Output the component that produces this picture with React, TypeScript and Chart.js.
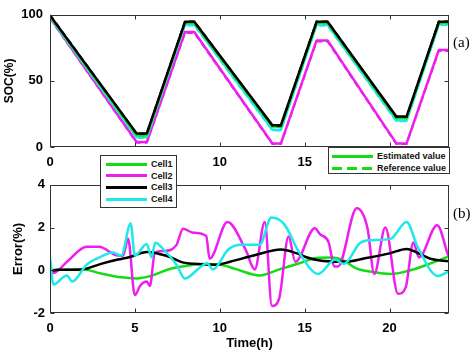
import React, { useEffect, useRef } from 'react';
import { Chart, registerables } from 'chart.js';

Chart.register(...registerables);

// ---------- Data: SOC (top panel) ----------
const socTime = [0, 5.1, 5.7, 7.95, 8.5, 13.1, 13.6, 15.7, 16.35, 20.4, 21.0, 22.9, 23.5];
const socEst1 = [99, 9, 9, 94, 94, 15.5, 15.5, 94, 94, 22, 22, 94, 94];
const socEst2 = [98, 3.8, 3.8, 87, 87, 2.7, 2.7, 80.6, 80.6, 2.7, 2.7, 73.4, 73.4];
const socEst3 = [99.5, 10.3, 10.3, 94.7, 94.7, 16.5, 16.5, 94.7, 94.7, 23, 23, 94.7, 94.7];
const socEst4 = [98.5, 7.4, 7.4, 92.6, 92.6, 13, 13, 92.5, 92.5, 20, 20, 92.8, 92.8];
const socRef1 = [99.5, 8.6, 8.6, 93.6, 93.6, 15.2, 15.2, 93.7, 93.7, 21.8, 21.8, 93.5, 93.5];
const socRef2 = [97.5, 3.2, 3.2, 86.2, 86.2, 2.2, 2.2, 79.8, 79.8, 2.2, 2.2, 72.6, 72.6];
const socRef3 = [100, 10, 10, 95, 95, 16, 16, 95, 95, 22.6, 22.6, 95, 95];
const socRef4 = [98, 6.8, 6.8, 92, 92, 12.4, 12.4, 91.8, 91.8, 19.4, 19.4, 92.2, 92.2];

// ---------- Data: Error (bottom panel) ----------
const errTime1 = [0, 0.5, 1.9, 3.0, 4.2, 5.1, 6.0, 7.0, 8.0, 9.0, 10.2, 11.0, 12.35, 13.5, 14.7, 15.7, 16.6, 17.3, 18.0, 19.0, 20.1, 21.0, 22.0, 23.5];
const err1 = [0.0, 0.02, 0.05, -0.15, -0.33, -0.38, -0.25, 0.05, 0.2, 0.29, 0.23, 0.04, -0.24, 0.04, 0.33, 0.58, 0.6, 0.45, 0.1, -0.08, -0.17, -0.05, 0.2, 0.65];

const errTime2 = [0, 0.2, 1.0, 2.16, 2.9, 3.9, 4.3, 4.6, 5.0, 5.3, 5.7, 5.88, 6.18, 6.7, 7.45, 7.84, 8.43, 9.2, 9.4, 10.45, 11.5, 12.06, 12.65, 13.07, 13.5, 14.05, 14.45, 15.6, 15.9, 16.4, 16.76, 16.96, 18.07, 18.7, 19.1, 19.75, 20.5, 20.95, 21.4, 21.73, 22.8, 23.45];
const err2 = [0.0, -0.13, 0.4, 1.1, 1.1, 0.7, 0.68, 1.47, -1.17, -0.74, -0.53, -0.74, 0.83, 0.9, 1.19, 1.94, 1.76, 1.6, 0.54, 2.26, 1.0, 0.04, 2.26, -1.67, -1.31, 1.58, 0.4, 1.97, 1.69, 1.33, 0.18, 0.18, 2.9, 1.97, -0.17, 2.0, -1.1, -0.8, 1.3, 0.6, 2.11, 0.69];

const errTime3 = [0, 0.5, 1.9, 3.0, 4.0, 4.7, 5.7, 6.5, 7.1, 7.8, 8.5, 9.8, 10.6, 12.0, 13.6, 14.5, 15.1, 15.8, 17.4, 18.5, 20.0, 21.0, 21.6, 22.4, 23.5];
const err3 = [-0.05, 0.02, 0.04, 0.3, 0.5, 0.62, 0.85, 0.75, 0.61, 0.37, 0.3, 0.26, 0.4, 0.69, 0.97, 0.8, 0.61, 0.47, 0.4, 0.55, 0.79, 1.0, 0.83, 0.54, 0.42];

const errTime4 = [0, 0.2, 1.0, 1.3, 2.16, 2.94, 3.7, 4.2, 4.75, 5.0, 5.7, 5.98, 6.2, 6.7, 7.45, 7.94, 8.8, 9.25, 9.6, 10.5, 11.27, 12.35, 13.04, 13.8, 14.7, 15.8, 16.8, 17.3, 18.25, 18.8, 20.05, 21.0, 21.65, 22.85, 23.45];
const err4 = [0.61, -0.67, -0.24, -0.53, 0.26, 0.61, 0.83, 0.69, 2.19, 0.69, 1.23, 0.61, 1.29, 0.97, 0.26, -0.39, 0.11, 0.33, 0.04, 0.97, 1.19, 1.19, 2.47, 2.15, 0.8, -0.17, 0.5, 0.3, 1.26, 1.4, 1.47, 2.26, 1.1, -0.27, -0.06];

const cellLabels = ['Cell1', 'Cell2', 'Cell3', 'Cell4'];
const xTicksStep = 5;
const socTickStep = 50;
const errTickStep = 2;

const C_GREEN = '#14dc14';
const C_MAGENTA = '#ee1eee';
const C_BLACK = '#000000';
const C_CYAN = '#1ee8e8';
const cellColors = [C_GREEN, C_MAGENTA, C_BLACK, C_CYAN];

const FONT = "'Liberation Sans', Arial, Helvetica, sans-serif";

const boxPlugin = {
  id: 'matlabBox',
  afterDatasetsDraw(chart: any) {
    const { ctx, chartArea: a, scales } = chart;
    const L = Math.round(a.left) + 0.5;
    const R = Math.round(a.right) - 0.5;
    const T = Math.round(a.top) + 0.5;
    const B = Math.round(a.bottom) - 0.5;
    ctx.save();
    ctx.strokeStyle = '#333333';
    ctx.lineWidth = 1;
    ctx.strokeRect(L, T, R - L, B - T);
    const tl = 4;
    ctx.beginPath();
    const xs = scales.x;
    xs.ticks.forEach((t: any) => {
      const px = Math.round(xs.getPixelForValue(t.value)) + 0.5;
      ctx.moveTo(px, B);
      ctx.lineTo(px, B - tl);
      ctx.moveTo(px, T);
      ctx.lineTo(px, T + tl);
    });
    const ys = scales.y;
    ys.ticks.forEach((t: any) => {
      const py = Math.round(ys.getPixelForValue(t.value)) + 0.5;
      ctx.moveTo(L, py);
      ctx.lineTo(L + tl, py);
      ctx.moveTo(R, py);
      ctx.lineTo(R - tl, py);
    });
    ctx.stroke();
    ctx.restore();
  },
};

function line(label: string, xs: number[], ys: number[], color: string, width: number, dash: number[] = [], smooth = false) {
  return {
    label,
    data: xs.map((x, i) => ({ x, y: ys[i] })),
    borderColor: color,
    backgroundColor: color,
    borderWidth: width,
    borderDash: dash,
    borderJoinStyle: 'round',
    pointRadius: 0,
    fill: false,
    tension: smooth ? 0.4 : 0,
    cubicInterpolationMode: smooth ? 'monotone' : 'default',
  };
}

const tickFont = { family: FONT, size: 13, weight: 'bold' as const };

function TopChart() {
  const ref = useRef<HTMLCanvasElement>(null);
  useEffect(() => {
    const chart = new Chart(ref.current!, {
      type: 'line',
      data: {
        datasets: [
          line('Cell3 est', socTime, socEst3, C_BLACK, 2.5),
          line('Cell3 ref', socTime, socRef3, C_BLACK, 2, [6, 4]),
          line('Cell1 est', socTime, socEst1, C_GREEN, 2.5),
          line('Cell1 ref', socTime, socRef1, C_GREEN, 2, [6, 4]),
          line('Cell4 est', socTime, socEst4, C_CYAN, 2.5),
          line('Cell4 ref', socTime, socRef4, C_CYAN, 2, [6, 4]),
          line('Cell2 est', socTime, socEst2, C_MAGENTA, 2.5),
          line('Cell2 ref', socTime, socRef2, C_MAGENTA, 2, [6, 4]),
        ] as any,
      },
      options: {
        responsive: false,
        animation: false,
        layout: { padding: { left: 0, top: 8, right: 25, bottom: 0 } },
        plugins: { legend: { display: false }, tooltip: { enabled: false } },
        scales: {
          x: {
            type: 'linear',
            min: 0,
            max: 23.5,
            grid: { display: false, drawTicks: false },
            border: { display: false },
            ticks: { stepSize: xTicksStep, includeBounds: false, padding: 8, color: '#000', font: tickFont, maxRotation: 0, autoSkip: false },
            afterFit: (s: any) => { s.height = 25; },
          },
          y: {
            type: 'linear',
            min: 0,
            max: 100,
            grid: { display: false, drawTicks: false },
            border: { display: false },
            ticks: { stepSize: socTickStep, padding: 7, color: '#000', font: tickFont },
            title: { display: true, text: 'SOC(%)', color: '#000', font: { family: FONT, size: 12, weight: 'bold' }, padding: { top: 2, bottom: 0 } },
            afterFit: (s: any) => { s.width = 50; },
          },
        },
      } as any,
      plugins: [boxPlugin],
    });
    return () => chart.destroy();
  }, []);
  return <canvas ref={ref} width={474} height={172} style={{ position: 'absolute', left: 0, top: 0, width: 474, height: 172 }} />;
}

function BottomChart() {
  const ref = useRef<HTMLCanvasElement>(null);
  useEffect(() => {
    const chart = new Chart(ref.current!, {
      type: 'line',
      data: {
        datasets: [
          line(cellLabels[3], errTime4, err4, C_CYAN, 2.5, [], true),
          line(cellLabels[2], errTime3, err3, C_BLACK, 2.5, [], true),
          line(cellLabels[1], errTime2, err2, C_MAGENTA, 2.5, [], true),
          line(cellLabels[0], errTime1, err1, C_GREEN, 2.5, [], true),
        ] as any,
      },
      options: {
        responsive: false,
        animation: false,
        layout: { padding: { left: 0, top: 1, right: 25, bottom: 0 } },
        plugins: { legend: { display: false }, tooltip: { enabled: false } },
        scales: {
          x: {
            type: 'linear',
            min: 0,
            max: 23.5,
            grid: { display: false, drawTicks: false },
            border: { display: false },
            ticks: { stepSize: xTicksStep, includeBounds: false, padding: 8, color: '#000', font: tickFont, maxRotation: 0, autoSkip: false },
            title: { display: true, text: 'Time(h)', color: '#000', font: { family: FONT, size: 13, weight: 'bold' }, padding: { top: 0, bottom: 2 } },
            afterFit: (s: any) => { s.height = 40; },
          },
          y: {
            type: 'linear',
            min: -2,
            max: 4,
            grid: { display: false, drawTicks: false },
            border: { display: false },
            ticks: { stepSize: errTickStep, padding: 5, color: '#000', font: tickFont },
            title: { display: true, text: 'Error(%)', color: '#000', font: { family: FONT, size: 13, weight: 'bold' }, padding: { top: 11, bottom: 0 } },
            afterFit: (s: any) => { s.width = 50; },
          },
        },
      } as any,
      plugins: [boxPlugin],
    });
    return () => chart.destroy();
  }, []);
  return <canvas ref={ref} width={474} height={181} style={{ position: 'absolute', left: 0, top: 172, width: 474, height: 181 }} />;
}

const legendText: React.CSSProperties = {
  position: 'absolute',
  fontFamily: FONT,
  fontWeight: 'bold',
  fontSize: 9,
  lineHeight: '10px',
  color: '#111',
  whiteSpace: 'nowrap',
};

function CellLegend() {
  const rows = [8, 19.5, 31, 43];
  return (
    <div style={{ position: 'absolute', left: 100, top: 155, width: 75, height: 51, border: '1px solid #333', background: '#fff', zIndex: 5 }}>
      {cellLabels.map((lab, i) => (
        <React.Fragment key={lab}>
          <div style={{ position: 'absolute', left: 5, top: rows[i] - 1.5, width: 41, height: 3, background: cellColors[i] }} />
          <div style={{ ...legendText, left: 50, top: rows[i] - 5 }}>{lab}</div>
        </React.Fragment>
      ))}
    </div>
  );
}

function ValueLegend() {
  return (
    <div style={{ position: 'absolute', left: 328, top: 147, width: 120, height: 25, border: '1px solid #333', background: '#fff', zIndex: 5 }}>
      <div style={{ position: 'absolute', left: 3, top: 6.5, width: 41, height: 3, background: C_GREEN }} />
      <div style={{ ...legendText, left: 48, top: 3 }}>Estimated value</div>
      <div style={{ position: 'absolute', left: 3, top: 18.5, width: 41, height: 3, background: `repeating-linear-gradient(90deg, ${C_GREEN} 0px, ${C_GREEN} 10px, transparent 10px, transparent 15px)` }} />
      <div style={{ ...legendText, left: 48, top: 15 }}>Reference value</div>
    </div>
  );
}

export default function App() {
  return (
    <div style={{ position: 'absolute', left: 0, top: 0, width: 474, height: 353, background: '#fff', overflow: 'hidden' }}>
      <TopChart />
      <BottomChart />
      <CellLegend />
      <ValueLegend />
      <div style={{ position: 'absolute', left: 453, top: 33, fontFamily: "'Liberation Serif', 'Times New Roman', serif", fontSize: 15, lineHeight: '18px', color: '#000', zIndex: 6 }}>(a)</div>
      <div style={{ position: 'absolute', left: 453, top: 204, fontFamily: "'Liberation Serif', 'Times New Roman', serif", fontSize: 15, lineHeight: '18px', color: '#000', zIndex: 6 }}>(b)</div>
    </div>
  );
}
